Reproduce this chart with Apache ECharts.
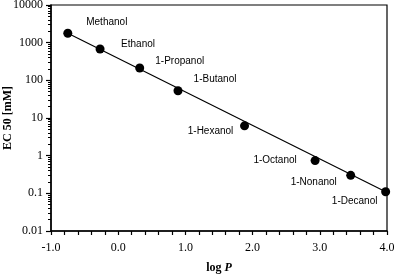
<!DOCTYPE html>
<html>
<head>
<meta charset="utf-8">
<script src="https://cdn.jsdelivr.net/npm/echarts@6/dist/echarts.min.js"></script>
<style>
  html, body { margin: 0; padding: 0; background: #fff; }
  #chart { width: 394px; height: 278px; }
</style>
</head>
<body>
<div id="chart"></div>
<script>
// alcohols: log P vs EC50 (mM)
var names = ['Methanol', 'Ethanol', '1-Propanol', '1-Butanol', '1-Hexanol', '1-Octanol', '1-Nonanol', '1-Decanol'];
var logP = [-0.75, -0.27, 0.32, 0.89, 1.88, 2.93, 3.46, 3.98];
var ec50 = [1780, 680, 213, 53, 6.2, 0.74, 0.30, 0.11];

// regression line end points
var fitX = [-0.75, 3.98];
var fitY = [1780, 0.11];

var xTicks = [-1, 0, 1, 2, 3, 4];
var yTicks = [0.01, 0.1, 1, 10, 100, 1000, 10000];

// label placement relative to the marker (layout only)
var labelOffsets = [[39, -11], [38, -5], [40, -7], [37, -11], [-34, 5], [-40, 0], [-37, 7], [-31, 9]];

var minorY = [];
for (var d = 0; d < yTicks.length - 1; d++) {
  for (var m = 2; m <= 9; m++) minorY.push(yTicks[d] * m);
}

var serif = 'Liberation Serif, Times New Roman, serif';
var sans = 'Liberation Sans, Arial, sans-serif';

var myChart = echarts.init(document.getElementById('chart'), null, { renderer: 'canvas' });

var option = {
  animation: false,
  grid: {
    left: 51, right: 7, top: 5, bottom: 47,
    containLabel: false,
    outerBoundsMode: 'none',
    show: true, borderColor: '#000', borderWidth: 1.2
  },
  xAxis: {
    type: 'value',
    min: -1, max: 4, interval: 1,
    name: '{n|log }{p|P}',
    nameLocation: 'middle',
    nameGap: 31,
    nameMoveOverlap: false,
    nameTextStyle: {
      rich: {
        n: { fontFamily: serif, fontSize: 12, fontWeight: 'bold', color: '#000' },
        p: { fontFamily: serif, fontSize: 12, fontWeight: 'bold', fontStyle: 'italic', color: '#000' }
      }
    },
    axisLine: { onZero: false, lineStyle: { color: '#000', width: 1.5 } },
    axisTick: { inside: false, length: 4, lineStyle: { color: '#000', width: 1.2 } },
    minorTick: { show: true, splitNumber: 5, length: 4, lineStyle: { color: '#000', width: 1.2 } },
    axisLabel: {
      fontFamily: serif, fontSize: 12, color: '#000', margin: 11,
      formatter: function (v) { return v.toFixed(1); },
      customValues: xTicks
    },
    splitLine: { show: false }
  },
  yAxis: [
    {
      type: 'log', logBase: 10,
      min: 0.01, max: 10000, interval: 1,
      name: 'EC 50 [mM]',
      nameLocation: 'middle',
      nameGap: 37,
      nameMoveOverlap: false,
      nameTextStyle: { fontFamily: serif, fontSize: 12, fontWeight: 'bold', color: '#000' },
      axisLine: { onZero: false, lineStyle: { color: '#000', width: 1.5 } },
      axisTick: { inside: false, length: 5, lineStyle: { color: '#000', width: 1.2 } },
      axisLabel: {
        fontFamily: serif, fontSize: 12, color: '#000', margin: 8,
        formatter: function (v) { return String(v); },
        customValues: yTicks
      },
      splitLine: { show: false }
    },
    {
      // minor log ticks (2..9 in each decade)
      type: 'log', logBase: 10,
      min: 0.01, max: 10000,
      position: 'left',
      axisLine: { show: false, onZero: false },
      axisTick: { show: true, inside: false, length: 3, customValues: minorY, lineStyle: { color: '#000', width: 1 } },
      axisLabel: { show: false, customValues: minorY },
      splitLine: { show: false }
    }
  ],
  series: [
    {
      name: 'fit',
      type: 'line',
      data: fitX.map(function (x, i) { return [x, fitY[i]]; }),
      showSymbol: false,
      symbol: 'none',
      lineStyle: { color: '#000', width: 1.2 },
      z: 2
    },
    {
      name: 'EC50',
      type: 'scatter',
      symbolSize: 9,
      itemStyle: { color: '#000', opacity: 1 },
      data: logP.map(function (x, i) {
        return {
          value: [x, ec50[i]],
          name: names[i],
          label: { offset: labelOffsets[i] }
        };
      }),
      label: {
        show: true,
        position: 'inside',
        formatter: '{b}',
        fontFamily: sans,
        fontSize: 10,
        color: '#000'
      },
      z: 3
    }
  ]
};

myChart.setOption(option);
window.addEventListener('resize', function () {
  myChart.resize();
});
</script>
</body>
</html>
